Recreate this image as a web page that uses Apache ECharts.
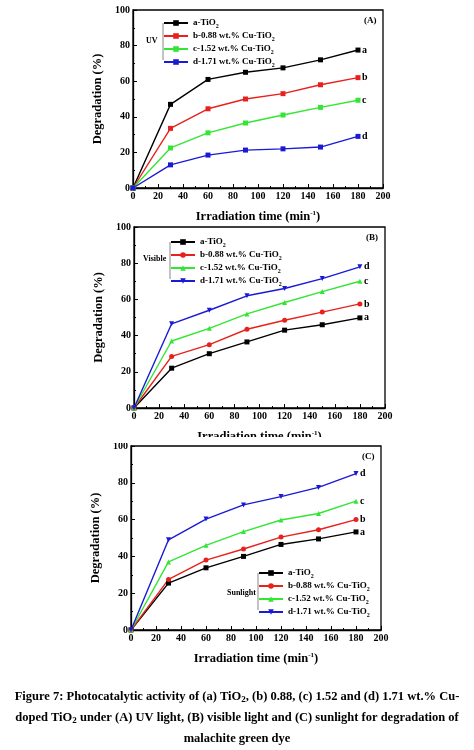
<!DOCTYPE html>
<html>
<head>
<meta charset="utf-8">
<script src="https://cdn.jsdelivr.net/npm/echarts@6/dist/echarts.min.js"></script>
<style>
  html, body { margin: 0; padding: 0; background: #fff; }
  #main { width: 474px; height: 750px; }
</style>
</head>
<body>
<div id="main"></div>
<script>
// irradiation time (min) and degradation (%)
const timeMin = [0, 30, 60, 90, 120, 150, 180];

const uvA = [0, 47, 61, 65, 67.5, 72, 77.5];
const uvB = [0, 33.5, 44.5, 50, 53, 58, 62];
const uvC = [0, 22.5, 31, 36.5, 41, 45.3, 49.3];
const uvD = [0, 13, 18.5, 21.3, 22, 23, 29];

const visA = [0, 22, 30, 36.5, 43, 46, 49.8];
const visB = [0, 28.5, 35, 43.5, 48.5, 53, 57.5];
const visC = [0, 37, 44, 52, 58.3, 64.3, 70];
const visD = [0, 46.5, 54, 62, 66, 71.5, 78];

const sunA = [0, 25.5, 33.8, 40, 46.5, 49.5, 53.3];
const sunB = [0, 27.5, 38, 44, 50.5, 54.5, 60];
const sunC = [0, 37, 46, 53.5, 59.8, 63.3, 70];
const sunD = [0, 49, 60.3, 68, 72.5, 77.5, 85];

const sampleNames = ['a-TiO2', 'b-0.88 wt.% Cu-TiO2', 'c-1.52 wt.% Cu-TiO2', 'd-1.71 wt.% Cu-TiO2'];
const endTags = ['a', 'b', 'c', 'd'];
const colors = ['#000000', '#e8211c', '#33e633', '#1a1ad6'];

const SERIF = '"Liberation Serif", "DejaVu Serif", serif';
const invTriangle = 'path://M0,0L10,0L5,9Z';

const panels = [
  { key: 'A', tag: 'UV', data: [uvA, uvB, uvC, uvD], symbols: ['rect', 'rect', 'rect', 'rect'],
    grid: { left: 133, top: 10, width: 250, height: 178 },
    legend: { left: 163, top: 18 }, tagPos: [146, 37] },
  { key: 'B', tag: 'Visible', data: [visA, visB, visC, visD], symbols: ['rect', 'circle', 'triangle', invTriangle],
    grid: { left: 134, top: 227, width: 251, height: 181 },
    legend: { left: 170, top: 237 }, tagPos: [143, 255] },
  { key: 'C', tag: 'Sunlight', data: [sunA, sunB, sunC, sunD], symbols: ['rect', 'circle', 'triangle', invTriangle],
    grid: { left: 131, top: 446, width: 250, height: 184 },
    legend: { left: 258, top: 568 }, tagPos: [227, 589] }
];

function toPairs(vals) {
  return timeMin.map((t, i) => [t, vals[i]]);
}

const subRich = {
  s: { fontSize: 6, fontWeight: 'bold', fontFamily: SERIF, padding: [6, 0, 0, 0], color: '#000' }
};

const grids = [], xAxes = [], yAxes = [], series = [], legends = [], graphics = [];

panels.forEach((p, pi) => {
  grids.push(Object.assign({ show: true, borderColor: '#000', borderWidth: 1.3, backgroundColor: 'transparent' }, p.grid));

  xAxes.push({
    gridIndex: pi, type: 'value', min: 0, max: 200, interval: 20,
    name: 'Irradiation time (min{sup|-1})',
    nameLocation: 'middle', nameGap: 22,
    nameTextStyle: {
      fontFamily: SERIF, fontWeight: 'bold', fontSize: 12.5, color: '#000',
      rich: { sup: { fontSize: 7, fontWeight: 'bold', fontFamily: SERIF, padding: [0, 0, 7, 0] } }
    },
    axisLine: { lineStyle: { color: '#000', width: 1.3 } },
    axisTick: { inside: true, length: 4, lineStyle: { color: '#000' } },
    minorTick: { show: true, splitNumber: 2, length: 2, lineStyle: { color: '#000' } },
    splitLine: { show: false },
    axisLabel: { fontFamily: SERIF, fontWeight: 'bold', fontSize: 10, color: '#000', margin: 3 }
  });

  yAxes.push({
    gridIndex: pi, type: 'value', min: 0, max: 100, interval: 20,
    name: 'Degradation (%)',
    nameLocation: 'middle', nameGap: 25,
    nameTextStyle: { fontFamily: SERIF, fontWeight: 'bold', fontSize: 12.5, color: '#000' },
    axisLine: { lineStyle: { color: '#000', width: 1.3 } },
    axisTick: { inside: true, length: 4, lineStyle: { color: '#000' } },
    minorTick: { show: true, splitNumber: 2, length: 2, lineStyle: { color: '#000' } },
    splitLine: { show: false },
    axisLabel: { fontFamily: SERIF, fontWeight: 'bold', fontSize: 10, color: '#000', margin: 3 }
  });

  const legendData = [];
  p.data.forEach((vals, si) => {
    const nm = p.key + ':' + sampleNames[si];
    legendData.push(nm);
    series.push({
      name: nm,
      type: 'line',
      xAxisIndex: pi, yAxisIndex: pi,
      data: toPairs(vals),
      color: colors[si],
      symbol: p.symbols[si],
      symbolSize: 5,
      lineStyle: { width: 1.4, color: colors[si] },
      itemStyle: { color: colors[si] },
      endLabel: {
        show: true, formatter: endTags[si], distance: 4,
        fontFamily: SERIF, fontWeight: 'bold', fontSize: 10, color: '#000'
      },
      animation: false
    });
  });

  legends.push({
    data: legendData,
    orient: 'vertical',
    left: p.legend.left, top: p.legend.top,
    padding: 0, itemGap: 2,
    itemWidth: 24, itemHeight: 7,
    selectedMode: false,
    formatter: name => name.slice(2).replace(/TiO2$/, 'TiO{s|2}'),
    textStyle: { fontFamily: SERIF, fontWeight: 'bold', fontSize: 9, color: '#000', lineHeight: 10, rich: subRich }
  });

  // bracket joining the legend lines and its light-source tag
  graphics.push({
    type: 'line',
    shape: { x1: p.legend.left, y1: p.legend.top + 5, x2: p.legend.left, y2: p.legend.top + 42 },
    style: { stroke: '#888', lineWidth: 1 }
  });
  graphics.push({
    type: 'text', left: p.tagPos[0], top: p.tagPos[1],
    style: { text: p.tag, font: 'bold 8px ' + SERIF, fill: '#000' }
  });
  graphics.push({
    type: 'text', left: p.grid.left + p.grid.width - 19, top: p.grid.top + 6,
    style: { text: '(' + p.key + ')', font: 'bold 9px ' + SERIF, fill: '#000' }
  });
});

// panel C's picture overlaps the bottom of panel B's axis title
graphics.push({
  type: 'rect', shape: { x: 90, y: 437, width: 300, height: 6 },
  style: { fill: '#fff' }, z: 100
});

// figure caption
graphics.push({
  type: 'text', x: 237, y: 686,
  style: {
    text: 'Figure 7: Photocatalytic activity of (a) TiO{s|2}, (b) 0.88, (c) 1.52 and (d) 1.71 wt.% Cu-\n' +
          'doped TiO{s|2} under (A) UV light, (B) visible light and (C) sunlight for degradation of\n' +
          'malachite green dye',
    align: 'center',
    font: 'bold 12.5px ' + SERIF,
    fill: '#000',
    lineHeight: 21,
    rich: { s: { fontSize: 9, fontFamily: SERIF, fontWeight: 'bold', padding: [7, 0, 0, 0], lineHeight: 21 } }
  }
});

const chart = echarts.init(document.getElementById('main'));
chart.setOption({
  animation: false,
  backgroundColor: '#fff',
  grid: grids,
  xAxis: xAxes,
  yAxis: yAxes,
  legend: legends,
  series: series,
  graphic: graphics
});
</script>
</body>
</html>
